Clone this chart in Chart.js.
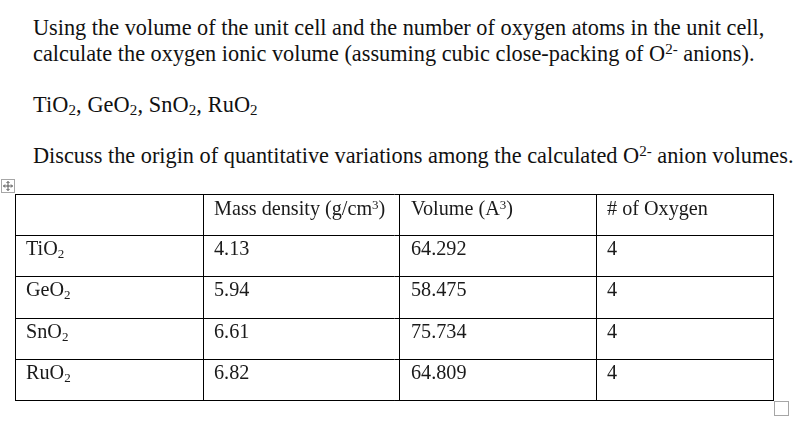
<!DOCTYPE html>
<html>
<head>
<meta charset="utf-8">
<script src="https://cdn.jsdelivr.net/npm/chart.js@4/dist/chart.umd.min.js"></script>
<style>
  html, body { margin: 0; padding: 0; background: #fff; width: 801px; height: 427px; overflow: hidden; }
  canvas { position: absolute; left: 0; top: 0; }
  .line { position: absolute; left: 33px; white-space: nowrap; font: 22.3px/24px "Liberation Serif", serif; color: #111; }
  .line sup, .line sub { font-size: 15px; line-height: 0; }
  .line sup { vertical-align: 7px; }
  .line sub { vertical-align: -3px; }
  .handle { position: absolute; }
</style>
</head>
<body>
<div class="line" style="top:16px">Using the volume of the unit cell and the number of oxygen atoms in the unit cell,</div>
<div class="line" style="top:42px">calculate the oxygen ionic volume (assuming cubic close-packing of O<sup>2-</sup> anions).</div>
<div class="line" style="top:93px;letter-spacing:0.1px">TiO<sub>2</sub>, GeO<sub>2</sub>, SnO<sub>2</sub>, RuO<sub>2</sub></div>
<div class="line" style="top:144px">Discuss the origin of quantitative variations among the calculated O<sup>2-</sup> anion volumes.</div>
<canvas id="tableChart" width="801" height="427"></canvas>
<svg class="handle" style="left:0;top:178px" width="16" height="16" viewBox="0 0 16 16">
  <rect x="1.5" y="1.5" width="13" height="13" fill="#fff" stroke="#a6a6a6"/>
  <path d="M8 3.5V12.5M3.5 8H12.5M6.5 5L8 3.5L9.5 5M6.5 11L8 12.5L9.5 11M5 6.5L3.5 8L5 9.5M11 6.5L12.5 8L11 9.5" fill="none" stroke="#555" stroke-width="1"/>
</svg>
<svg class="handle" style="left:774px;top:401px" width="16" height="16" viewBox="0 0 16 16">
  <rect x="0.5" y="0.5" width="14" height="14" fill="#fff" stroke="#a6a6a6"/>
</svg>
<script>
const compounds = ["TiO_2", "GeO_2", "SnO_2", "RuO_2"];
const columnHeaders = ["", "Mass density (g/cm^3)", "Volume (A^3)", "# of Oxygen"];
const massDensity = [4.13, 5.94, 6.61, 6.82];
const volume = [64.292, 58.475, 75.734, 64.809];
const oxygenCount = [4, 4, 4, 4];

// table borders and text baselines, in pixels from the table's top left corner
const columnEdges = [0, 188, 384, 581, 758];
const rowEdges = [0, 41, 82, 124, 165, 206];
const textLeft = [11, 199, 396, 592];
const textBaseline = [21, 61, 102, 144, 185];

const cellFont = '20.2px "Liberation Serif", serif';
const scriptFont = '13px "Liberation Serif", serif';

const rows = [columnHeaders].concat(
  compounds.map((name, i) => [
    name,
    massDensity[i].toFixed(2),
    volume[i].toFixed(3),
    String(oxygenCount[i]),
  ])
);

const cellPoints = [];
rows.forEach((row, r) => {
  row.forEach((text, c) => {
    if (text) cellPoints.push({ x: textLeft[c], y: textBaseline[r], text: text });
  });
});

function drawCellText(ctx, text, x, y) {
  text.split(/([_^]\d)/).forEach((part) => {
    if (!part) return;
    const isSub = part[0] === "_";
    const isSup = part[0] === "^";
    const shown = isSub || isSup ? part.slice(1) : part;
    ctx.font = isSub || isSup ? scriptFont : cellFont;
    ctx.fillText(shown, x, y + (isSub ? 3 : isSup ? -6 : 0));
    x += ctx.measureText(shown).width;
  });
}

const cellTextPlugin = {
  id: "cellText",
  afterDatasetsDraw(chart) {
    const ctx = chart.ctx;
    ctx.save();
    ctx.fillStyle = "#1a1a1a";
    ctx.textBaseline = "alphabetic";
    ctx.textAlign = "left";
    cellPoints.forEach((p) => {
      drawCellText(ctx, p.text, chart.scales.x.getPixelForValue(p.x), chart.scales.y.getPixelForValue(p.y));
    });
    ctx.restore();
  },
};

new Chart(document.getElementById("tableChart"), {
  type: "scatter",
  data: { datasets: [{ data: cellPoints, pointRadius: 0 }] },
  plugins: [cellTextPlugin],
  options: {
    responsive: false,
    animation: false,
    devicePixelRatio: 1,
    layout: { padding: { left: 15, top: 194, right: 28, bottom: 27 } },
    plugins: { legend: { display: false }, tooltip: { enabled: false } },
    scales: {
      x: {
        type: "linear",
        min: 0,
        max: 758,
        afterBuildTicks: (axis) => { axis.ticks = columnEdges.map((v) => ({ value: v })); },
        ticks: { display: false },
        grid: { color: "#000", lineWidth: 1, drawTicks: false },
        border: { color: "#000" },
      },
      y: {
        type: "linear",
        reverse: true,
        min: 0,
        max: 206,
        afterBuildTicks: (axis) => { axis.ticks = rowEdges.map((v) => ({ value: v })); },
        ticks: { display: false },
        grid: { color: "#000", lineWidth: 1, drawTicks: false },
        border: { color: "#000" },
      },
    },
  },
});
</script>
</body>
</html>
